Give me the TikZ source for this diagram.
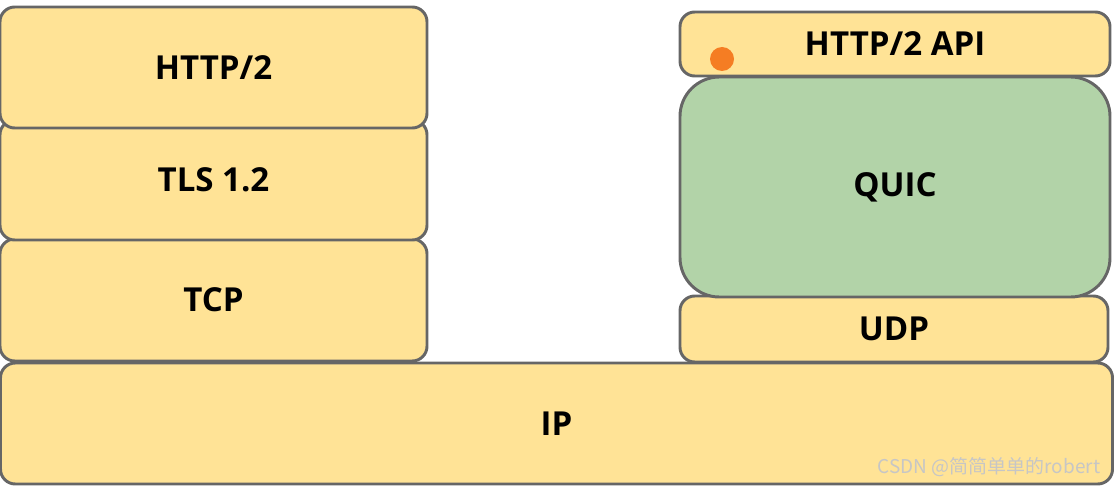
\documentclass[tikz,border=0pt]{standalone}
\usepackage{fontspec}
\setmainfont{Open Sans}
\newfontfamily\cjk{Noto Sans CJK SC}
\definecolor{layeryellow}{RGB}{255,227,150}
\definecolor{layergreen}{RGB}{178,211,168}
\definecolor{layerline}{RGB}{102,102,102}
\definecolor{dotorange}{RGB}{245,125,35}
\tikzset{
  layer/.style={draw=layerline,line width=2.1pt,fill=layeryellow,
    rounded corners=10.5pt,font=\fontsize{23.5}{28}\selectfont\bfseries},
  quic/.style={layer,fill=layergreen,rounded corners=28pt}
}
\begin{document}
\begin{tikzpicture}[x=0.025cm,y=-0.025cm]
  \useasboundingbox (0,0) rectangle (1116,486);
  % base layer
  \node[layer,minimum width=1112*0.025cm,minimum height=121*0.025cm] (ip) at (556.5,423.5) {IP};
  % left stack: tcp
  \node[layer,minimum width=427*0.025cm,minimum height=122*0.025cm] (tcp) at (213.5,300) {TCP};
  \node[layer,minimum width=427*0.025cm,minimum height=120*0.025cm] (tls) at (213.5,180) {TLS 1.2};
  \node[layer,minimum width=427*0.025cm,minimum height=121*0.025cm] (http) at (213.5,67.5) {HTTP/2};
  % right stack: quic
  \node[layer,minimum width=428*0.025cm,minimum height=66*0.025cm] (udp) at (894,329) {UDP};
  \node[quic,minimum width=430*0.025cm,minimum height=220*0.025cm] (quic) at (895,187) {QUIC};
  \node[layer,minimum width=430*0.025cm,minimum height=64*0.025cm] (api) at (895,44) {HTTP/2 API};
  % cursor mark
  \fill[dotorange] (722,59) circle (12);
  \node[text=gray!45,font=\cjk\fontsize{13.5}{16}\selectfont] (mark) at (989,467) {CSDN @简简单单的robert};
\end{tikzpicture}
\end{document}
